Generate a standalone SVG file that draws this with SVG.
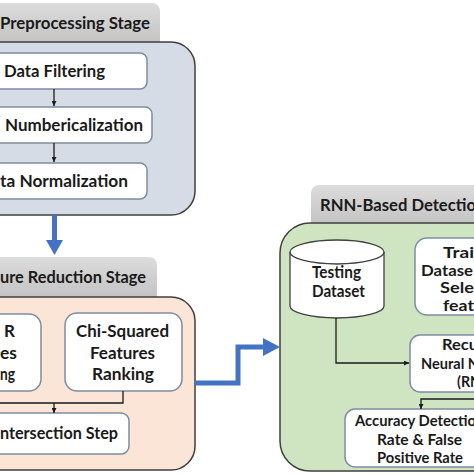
<svg xmlns="http://www.w3.org/2000/svg" width="474" height="474" viewBox="0 0 474 474">
<defs>
<linearGradient id="tabg" x1="0" y1="0" x2="0" y2="1">
<stop offset="0" stop-color="#dcdcdc"/>
<stop offset="1" stop-color="#bdbdbd"/>
</linearGradient>
<marker id="ah" viewBox="0 0 10 10" refX="10" refY="5" markerWidth="5" markerHeight="5" orient="auto" markerUnits="userSpaceOnUse">
<path d="M0,0 L10,5 L0,10 Z" fill="#1a1a1a"/>
</marker>
<style>
text{font-family:"Lato","Liberation Sans",sans-serif;font-weight:bold;font-size:17px;fill:#1a1a1a}
.sm{font-size:16px}
.tab{fill:url(#tabg);stroke:none}
.body{stroke:#3f3f3f;stroke-width:1.5}
.box{fill:#ffffff;stroke:#7f8ca0;stroke-width:1.5}
.cyl{fill:#ffffff;stroke:#404040;stroke-width:1.3}
.conn{fill:none;stroke:#1a1a1a;stroke-width:1.3}
.blue{fill:none;stroke:#4472c4;stroke-width:5}
.bhead{fill:#4472c4}
</style>
</defs>
<rect width="474" height="474" fill="#ffffff"/>

<g id="preprocessing-stage">
<rect class="tab" x="-40" y="3" width="200" height="50" rx="8"/>
<text x="0" y="29" textLength="150" lengthAdjust="spacingAndGlyphs">Preprocessing Stage</text>
<rect class="body" x="-40" y="42" width="235" height="173" rx="24" fill="#d6dce5"/>
</g>
<g id="data-filtering">
<rect class="box" x="-40" y="53" width="187" height="36" rx="7"/>
<text x="4" y="77" textLength="101" lengthAdjust="spacingAndGlyphs">Data Filtering</text>
</g>
<g id="numbericalization">
<rect class="box" x="-40" y="107" width="192" height="36" rx="7"/>
<text x="5" y="131" textLength="138" lengthAdjust="spacingAndGlyphs">Numbericalization</text>
</g>
<g id="data-normalization">
<rect class="box" x="-40" y="163" width="187" height="36" rx="7"/>
<text x="0" y="187" textLength="128" lengthAdjust="spacingAndGlyphs">ta Normalization</text>
</g>

<g id="feature-reduction-stage">
<rect class="tab" x="-40" y="257" width="197" height="50" rx="8"/>
<text x="0" y="283" textLength="146" lengthAdjust="spacingAndGlyphs">ure Reduction Stage</text>
<rect class="body" x="-40" y="297" width="235" height="173" rx="24" fill="#fbe5d6"/>
</g>
<g id="left-ranking">
<rect class="box" x="-80" y="314" width="121" height="77" rx="12"/>
<text x="4" y="337">R</text>
<text x="0" y="359" textLength="17" lengthAdjust="spacingAndGlyphs">es</text>
<text x="0" y="380" textLength="15" lengthAdjust="spacingAndGlyphs">ng</text>
</g>
<g id="chi-squared">
<rect class="box" x="65" y="313" width="117" height="78" rx="12"/>
<text x="76" y="337" textLength="93" lengthAdjust="spacingAndGlyphs">Chi-Squared</text>
<text x="90" y="359" textLength="65" lengthAdjust="spacingAndGlyphs">Features</text>
<text x="92" y="380" textLength="62" lengthAdjust="spacingAndGlyphs">Ranking</text>
</g>
<g id="intersection-step">
<rect class="box" x="-40" y="413" width="169" height="41" rx="8"/>
<text x="0" y="439" textLength="118" lengthAdjust="spacingAndGlyphs">ntersection Step</text>
</g>

<g id="rnn-detection-stage">
<rect class="tab" x="311" y="185" width="200" height="50" rx="8"/>
<text x="320" y="211" textLength="156" lengthAdjust="spacingAndGlyphs">RNN-Based Detectio</text>
<rect class="body" x="280" y="223" width="240" height="248" rx="30" fill="#cfe4c0"/>
</g>
<g id="testing-dataset">
<path class="cyl" d="M290,252 V306 A47,12 0 0 0 384,306 V252"/>
<ellipse class="cyl" cx="337" cy="252" rx="47" ry="12"/>
<text x="312" y="278" textLength="49" lengthAdjust="spacingAndGlyphs">Testing</text>
<text x="312" y="297" textLength="53" lengthAdjust="spacingAndGlyphs">Dataset</text>
</g>
<g id="training-dataset">
<rect class="box" x="415" y="238" width="100" height="77" rx="12"/>
<text class="sm" x="443" y="258" textLength="31" lengthAdjust="spacingAndGlyphs">Trai</text>
<text class="sm" x="421" y="275.5" textLength="52" lengthAdjust="spacingAndGlyphs">Datase</text>
<text class="sm" x="440" y="293" textLength="34" lengthAdjust="spacingAndGlyphs">Sele</text>
<text class="sm" x="443" y="310.5" textLength="31" lengthAdjust="spacingAndGlyphs">feat</text>
</g>
<g id="rnn-model">
<rect class="box" x="410" y="335" width="100" height="57" rx="10"/>
<text class="sm" x="442" y="350" textLength="36" lengthAdjust="spacingAndGlyphs">Recu</text>
<text class="sm" x="421" y="369" textLength="58" lengthAdjust="spacingAndGlyphs">Neural N</text>
<text class="sm" x="457" y="387" textLength="24" lengthAdjust="spacingAndGlyphs">(RN</text>
</g>
<g id="accuracy">
<rect class="box" x="345" y="409" width="160" height="58" rx="10"/>
<text class="sm" x="355" y="426" textLength="121" lengthAdjust="spacingAndGlyphs">Accuracy Detectio</text>
<text class="sm" x="377" y="445" textLength="85" lengthAdjust="spacingAndGlyphs">Rate &amp; False</text>
<text class="sm" x="377" y="463" textLength="86" lengthAdjust="spacingAndGlyphs">Positive Rate</text>
</g>

<g id="connectors">
<line class="conn" x1="54" y1="89" x2="54" y2="106" marker-end="url(#ah)"/>
<line class="conn" x1="54" y1="143" x2="54" y2="162" marker-end="url(#ah)"/>
<line class="blue" x1="54.5" y1="215" x2="54.5" y2="242"/>
<polygon class="bhead" points="46,240 63,240 54.5,255"/>
<polyline class="conn" points="123,391 123,403 -5,403"/>
<line class="conn" x1="54" y1="403" x2="54" y2="413" marker-end="url(#ah)"/>
<polyline class="blue" points="195,383 238,383 238,347 265,347"/>
<polygon class="bhead" points="263,338 263,356 280,347"/>
<polyline class="conn" points="336,318 336,363 409,363" marker-end="url(#ah)"/>
<polyline class="conn" points="480,399 421,399 421,409" marker-end="url(#ah)"/>
</g>
</svg>
